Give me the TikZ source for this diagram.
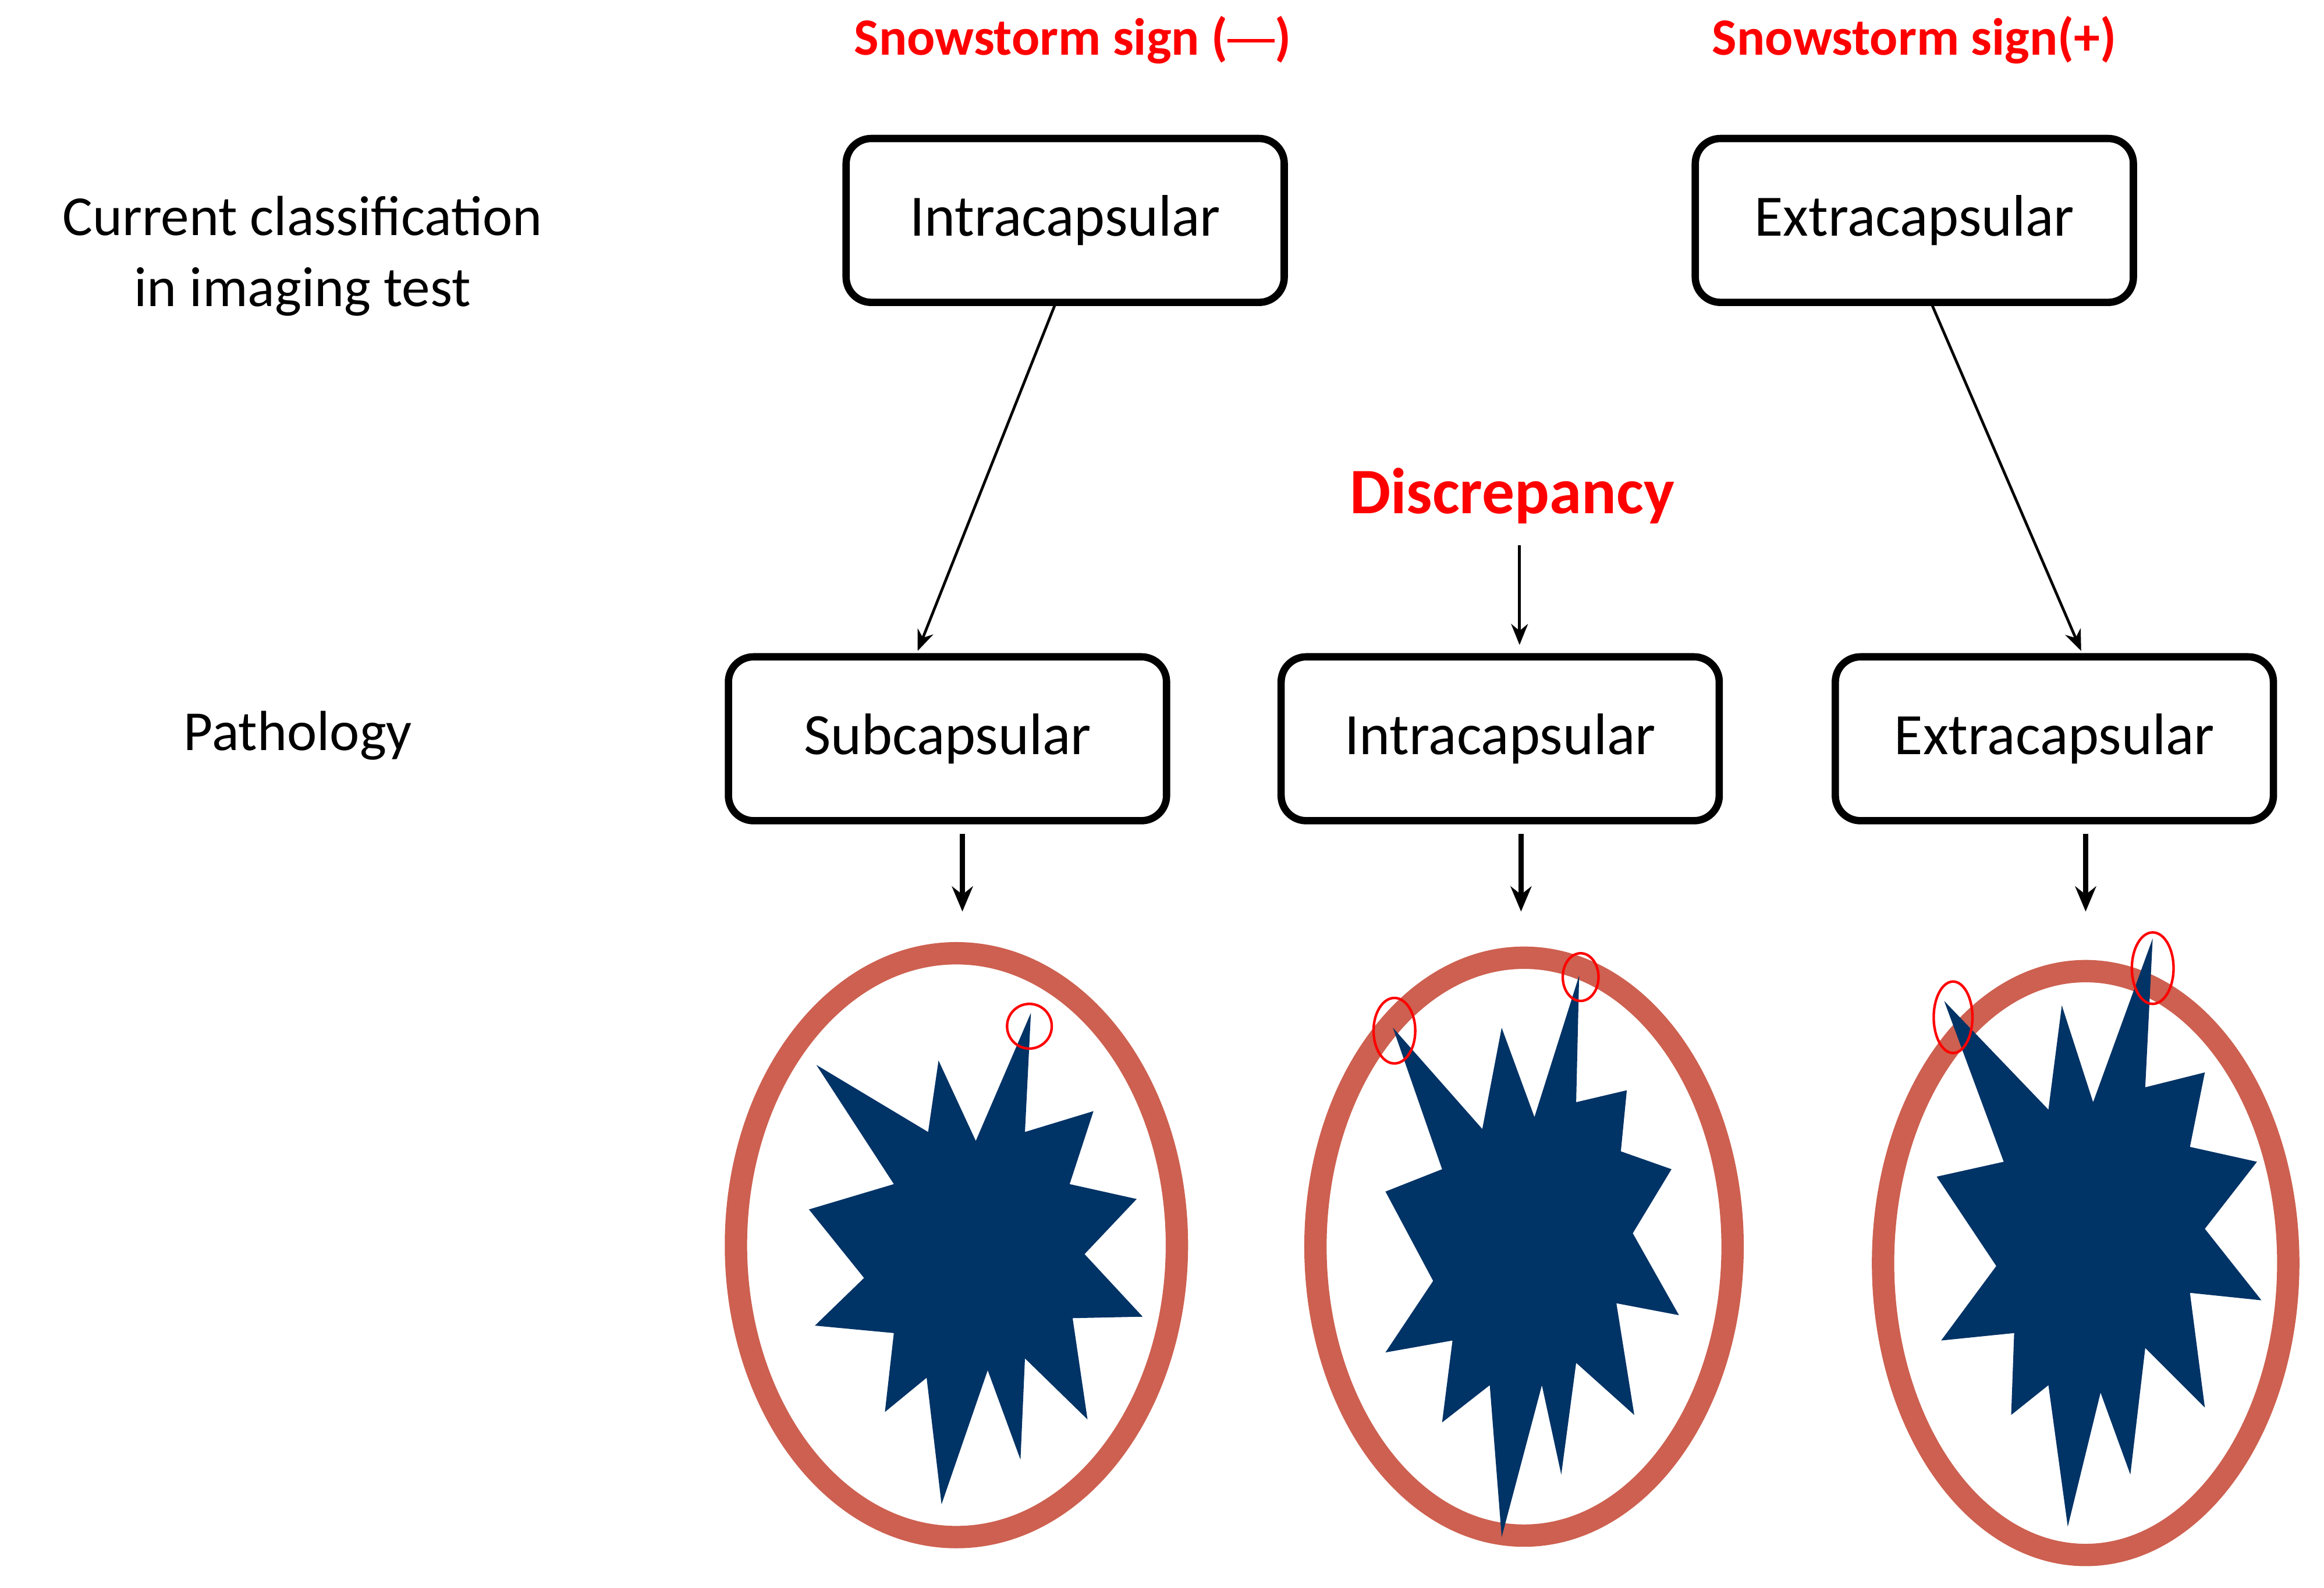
\documentclass[tikz,border=0pt]{standalone}
\usepackage{fontspec}
\setmainfont{Carlito}
\definecolor{capsule}{RGB}{205,96,80}
\definecolor{navy}{RGB}{0,51,102}
\usetikzlibrary{arrows.meta}
\tikzset{
 box/.style={draw, line width=3.5pt, rounded corners=12pt, minimum width=7.35cm, minimum height=2.75cm, font=\fontsize{28}{32}\selectfont},
 lbl/.style={font=\fontsize{27}{34}\selectfont, align=center},
 redt/.style={text=red, font=\bfseries\fontsize{25}{30}\selectfont},
 thin arrow/.style={-{Stealth[length=10pt,width=8pt]}, line width=1.3pt},
 thick arrow/.style={-{Stealth[length=12pt,width=10pt]}, line width=2.6pt},
 capsule/.style={draw=capsule, line width=0.375cm},
 tumor/.style={fill=navy, draw=none},
 redmark/.style={draw=red, line width=1.2pt}
}
\begin{document}
\begin{tikzpicture}[x=0.025cm,y=-0.025cm]
\useasboundingbox (0,0) rectangle (1560,1066);
\node[redt] (t1) at (720,27) {Snowstorm sign (\raisebox{0.5ex}{\rule{0.9em}{1.6pt}})};
\node[redt] (t2) at (1285,27) {Snowstorm sign(+)};
\node[lbl] (l1) at (203,172) {Current classification\\in imaging test};
\node[lbl] (l2) at (200,494) {Pathology};
\node[box] (a) at (715,148) {Intracapsular};
\node[box] (b) at (1285,148) {Extracapsular};
\node[box] (c) at (636,496) {Subcapsular};
\node[box] (d) at (1007,496) {Intracapsular};
\node[box] (e) at (1379,496) {Extracapsular};
\node[text=red, font=\bfseries\fontsize{31}{36}\selectfont] (disc) at (1015,333) {Discrepancy};
\coordinate (a1) at (708,205); \coordinate (c1) at (616,437);
\coordinate (b1) at (1297,205); \coordinate (e1) at (1397,437);
\draw[thin arrow] (a1) -- (c1);
\draw[thin arrow] (b1) -- (e1);
\draw[thin arrow] (1020,366) -- (1020,433);
\draw[thick arrow] (646,560) -- (646,612);
\draw[thick arrow] (1021,560) -- (1021,612);
\draw[thick arrow] (1400,560) -- (1400,612);
\draw[capsule] (642,836) ellipse [x radius=148, y radius=196];
\draw[capsule] (1023,837) ellipse [x radius=140, y radius=194];
\draw[capsule] (1400,848) ellipse [x radius=136, y radius=196];
\fill[tumor] (692,680) -- (688,760) -- (734,746) -- (718,795) -- (763,805) -- (728,842) -- (767,884) -- (720,885) -- (730,953) -- (688,912) -- (685,980) -- (663,920) -- (632,1010) -- (622,925) -- (594,948) -- (600,895) -- (547,890) -- (580,858) -- (543,812) -- (600,795) -- (548,715) -- (623,760) -- (630,712) -- (655,766) -- cycle;
\fill[tumor] (1060,655) -- (1058,740) -- (1092,732) -- (1088,773) -- (1122,785) -- (1096,828) -- (1127,883) -- (1085,875) -- (1097,950) -- (1058,915) -- (1048,990) -- (1035,930) -- (1008,1032) -- (1000,930) -- (968,955) -- (975,900) -- (930,908) -- (962,860) -- (930,800) -- (968,785) -- (935,690) -- (995,758) -- (1008,690) -- (1030,750) -- cycle;
\fill[tumor] (1445,630) -- (1440,730) -- (1480,720) -- (1470,770) -- (1515,780) -- (1480,825) -- (1518,873) -- (1470,868) -- (1480,945) -- (1440,905) -- (1430,990) -- (1410,935) -- (1388,1025) -- (1375,930) -- (1350,950) -- (1352,895) -- (1303,900) -- (1340,850) -- (1300,790) -- (1345,780) -- (1305,672) -- (1375,745) -- (1384,675) -- (1405,740) -- cycle;
\draw[redmark] (691,689) circle [radius=15];
\draw[redmark] (936,692) ellipse [x radius=14, y radius=22];
\draw[redmark] (1061,656) ellipse [x radius=12, y radius=16];
\draw[redmark] (1311,683) ellipse [x radius=13, y radius=24];
\draw[redmark] (1445,650) ellipse [x radius=14, y radius=24];
\end{tikzpicture}
\end{document}
